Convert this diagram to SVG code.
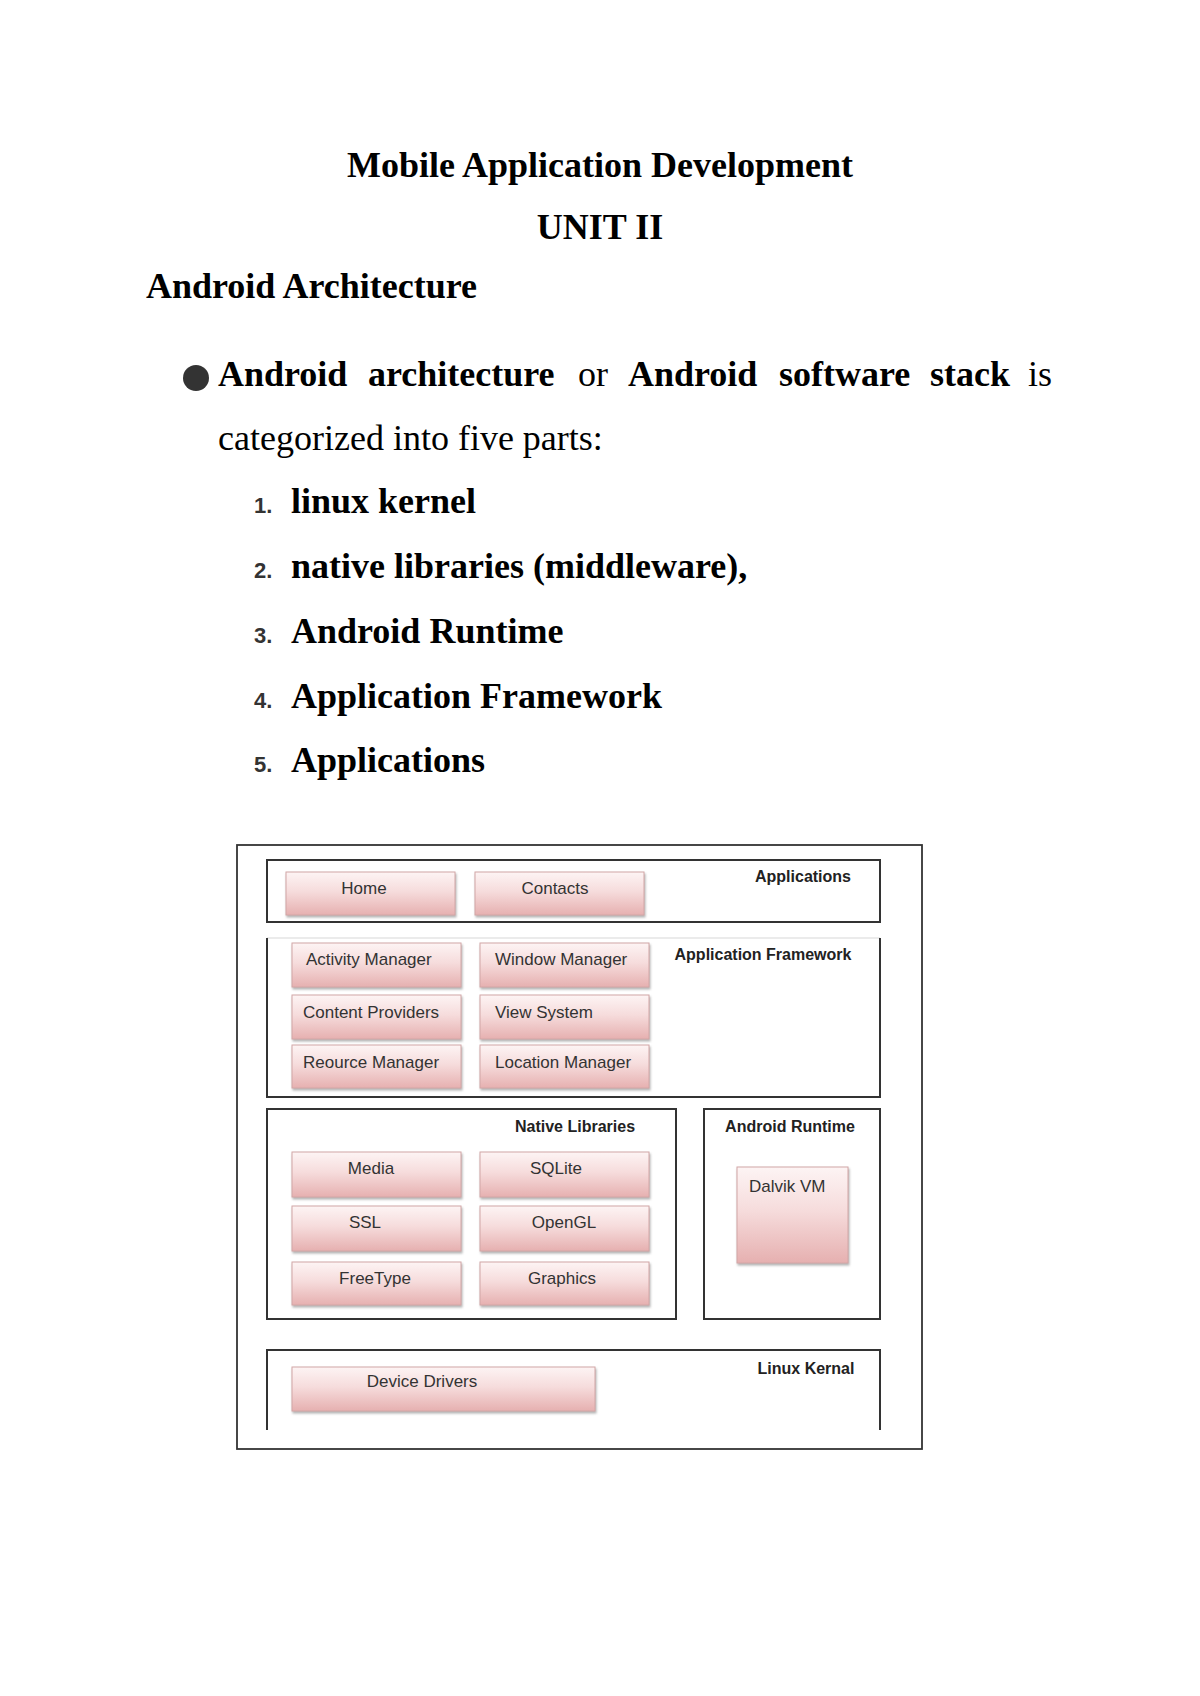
<svg xmlns="http://www.w3.org/2000/svg" width="1200" height="1696" viewBox="0 0 1200 1696">
<defs>
<linearGradient id="pink" x1="0" y1="0" x2="0" y2="1">
<stop offset="0" stop-color="#fdf4f4"/>
<stop offset="0.45" stop-color="#f6dcdc"/>
<stop offset="1" stop-color="#e6b0b0"/>
</linearGradient>
<filter id="sh" x="-5%" y="-10%" width="110%" height="130%">
<feDropShadow dx="1" dy="2" stdDeviation="1" flood-color="#808080" flood-opacity="0.6"/>
</filter>
<style>
.h{font-family:"Liberation Serif","Times New Roman",serif;font-weight:bold;font-size:36px;fill:#000}
.n{font-family:"Liberation Serif","Times New Roman",serif;font-size:36px;fill:#000}
.num{font-family:"Liberation Sans",Arial,sans-serif;font-weight:bold;font-size:22px;fill:#333}
.btn{fill:url(#pink);stroke:#d2a6a6;stroke-width:1;filter:url(#sh)}
.box{fill:none;stroke:#333;stroke-width:2}
.bt{font-family:"Liberation Sans",Arial,sans-serif;font-size:17px;fill:#333}
.lb{font-family:"Liberation Sans",Arial,sans-serif;font-size:16px;font-weight:bold;fill:#222}
.c{text-anchor:middle}
</style>
</defs>
<rect width="1200" height="1696" fill="#fff"/>

<g id="heading">
<text class="h c" x="600" y="177">Mobile Application Development</text>
<text class="h c" x="600" y="239">UNIT II</text>
<text class="h" x="146" y="298">Android Architecture</text>
</g>

<g id="bullet">
<circle cx="196" cy="378" r="13" fill="#333"/>
<text class="h" x="218" y="386">Android</text>
<text class="h" x="368" y="386">architecture</text>
<text class="n" x="578" y="386">or</text>
<text class="h" x="628" y="386">Android</text>
<text class="h" x="779" y="386">software</text>
<text class="h" x="930" y="386">stack</text>
<text class="n" x="1028" y="386">is</text>
<text class="n" x="218" y="450">categorized into five parts:</text>
</g>

<g id="list">
<text class="num" x="254" y="513">1.</text><text class="h" x="291" y="513">linux kernel</text>
<text class="num" x="254" y="578">2.</text><text class="h" x="291" y="578">native libraries (middleware),</text>
<text class="num" x="254" y="643">3.</text><text class="h" x="291" y="643">Android Runtime</text>
<text class="num" x="254" y="708">4.</text><text class="h" x="291" y="708">Application Framework</text>
<text class="num" x="254" y="772">5.</text><text class="h" x="291" y="772">Applications</text>
</g>

<g id="diagram-frame">
<rect x="237" y="845" width="685" height="604" fill="none" stroke="#333" stroke-width="1.8"/>
</g>

<g id="applications">
<rect class="box" x="267" y="860" width="613" height="62"/>
<text class="lb c" x="803" y="882">Applications</text>
<g id="home"><rect class="btn" x="286" y="872" width="169" height="43"/><text class="bt c" x="364" y="894">Home</text></g>
<g id="contacts"><rect class="btn" x="475" y="872" width="169" height="43"/><text class="bt c" x="555" y="894">Contacts</text></g>
</g>

<g id="application-framework">
<line x1="267" y1="938" x2="880" y2="938" stroke="#e4e4e4" stroke-width="1.5"/>
<path class="box" d="M267,938 V1097 H880 V938"/>
<text class="lb c" x="763" y="960">Application Framework</text>
<g id="activity-manager"><rect class="btn" x="292" y="943" width="169" height="44"/><text class="bt" x="306" y="965">Activity Manager</text></g>
<g id="window-manager"><rect class="btn" x="480" y="943" width="169" height="44"/><text class="bt" x="495" y="965">Window Manager</text></g>
<g id="content-providers"><rect class="btn" x="292" y="995" width="169" height="44"/><text class="bt" x="303" y="1018">Content Providers</text></g>
<g id="view-system"><rect class="btn" x="480" y="995" width="169" height="44"/><text class="bt" x="495" y="1018">View System</text></g>
<g id="resource-manager"><rect class="btn" x="292" y="1045" width="169" height="43"/><text class="bt" x="303" y="1068">Reource Manager</text></g>
<g id="location-manager"><rect class="btn" x="480" y="1045" width="169" height="43"/><text class="bt" x="495" y="1068">Location Manager</text></g>
</g>

<g id="native-libraries">
<rect class="box" x="267" y="1109" width="409" height="210"/>
<text class="lb c" x="575" y="1132">Native Libraries</text>
<g id="media"><rect class="btn" x="292" y="1152" width="169" height="45"/><text class="bt c" x="371" y="1174">Media</text></g>
<g id="sqlite"><rect class="btn" x="480" y="1152" width="169" height="45"/><text class="bt c" x="556" y="1174">SQLite</text></g>
<g id="ssl"><rect class="btn" x="292" y="1206" width="169" height="45"/><text class="bt c" x="365" y="1228">SSL</text></g>
<g id="opengl"><rect class="btn" x="480" y="1206" width="169" height="45"/><text class="bt c" x="564" y="1228">OpenGL</text></g>
<g id="freetype"><rect class="btn" x="292" y="1262" width="169" height="43"/><text class="bt c" x="375" y="1284">FreeType</text></g>
<g id="graphics"><rect class="btn" x="480" y="1262" width="169" height="43"/><text class="bt c" x="562" y="1284">Graphics</text></g>
</g>

<g id="android-runtime">
<rect class="box" x="704" y="1109" width="176" height="210"/>
<text class="lb c" x="790" y="1132">Android Runtime</text>
<g id="dalvik-vm"><rect class="btn" x="737" y="1167" width="111" height="96"/><text class="bt" x="749" y="1192">Dalvik VM</text></g>
</g>

<g id="linux-kernel">
<path class="box" d="M267,1430 V1350 H880 V1430"/>
<text class="lb c" x="806" y="1374">Linux Kernal</text>
<g id="device-drivers"><rect class="btn" x="292" y="1367" width="303" height="44"/><text class="bt c" x="422" y="1387">Device Drivers</text></g>
</g>

<g id="connectors"></g>
</svg>
